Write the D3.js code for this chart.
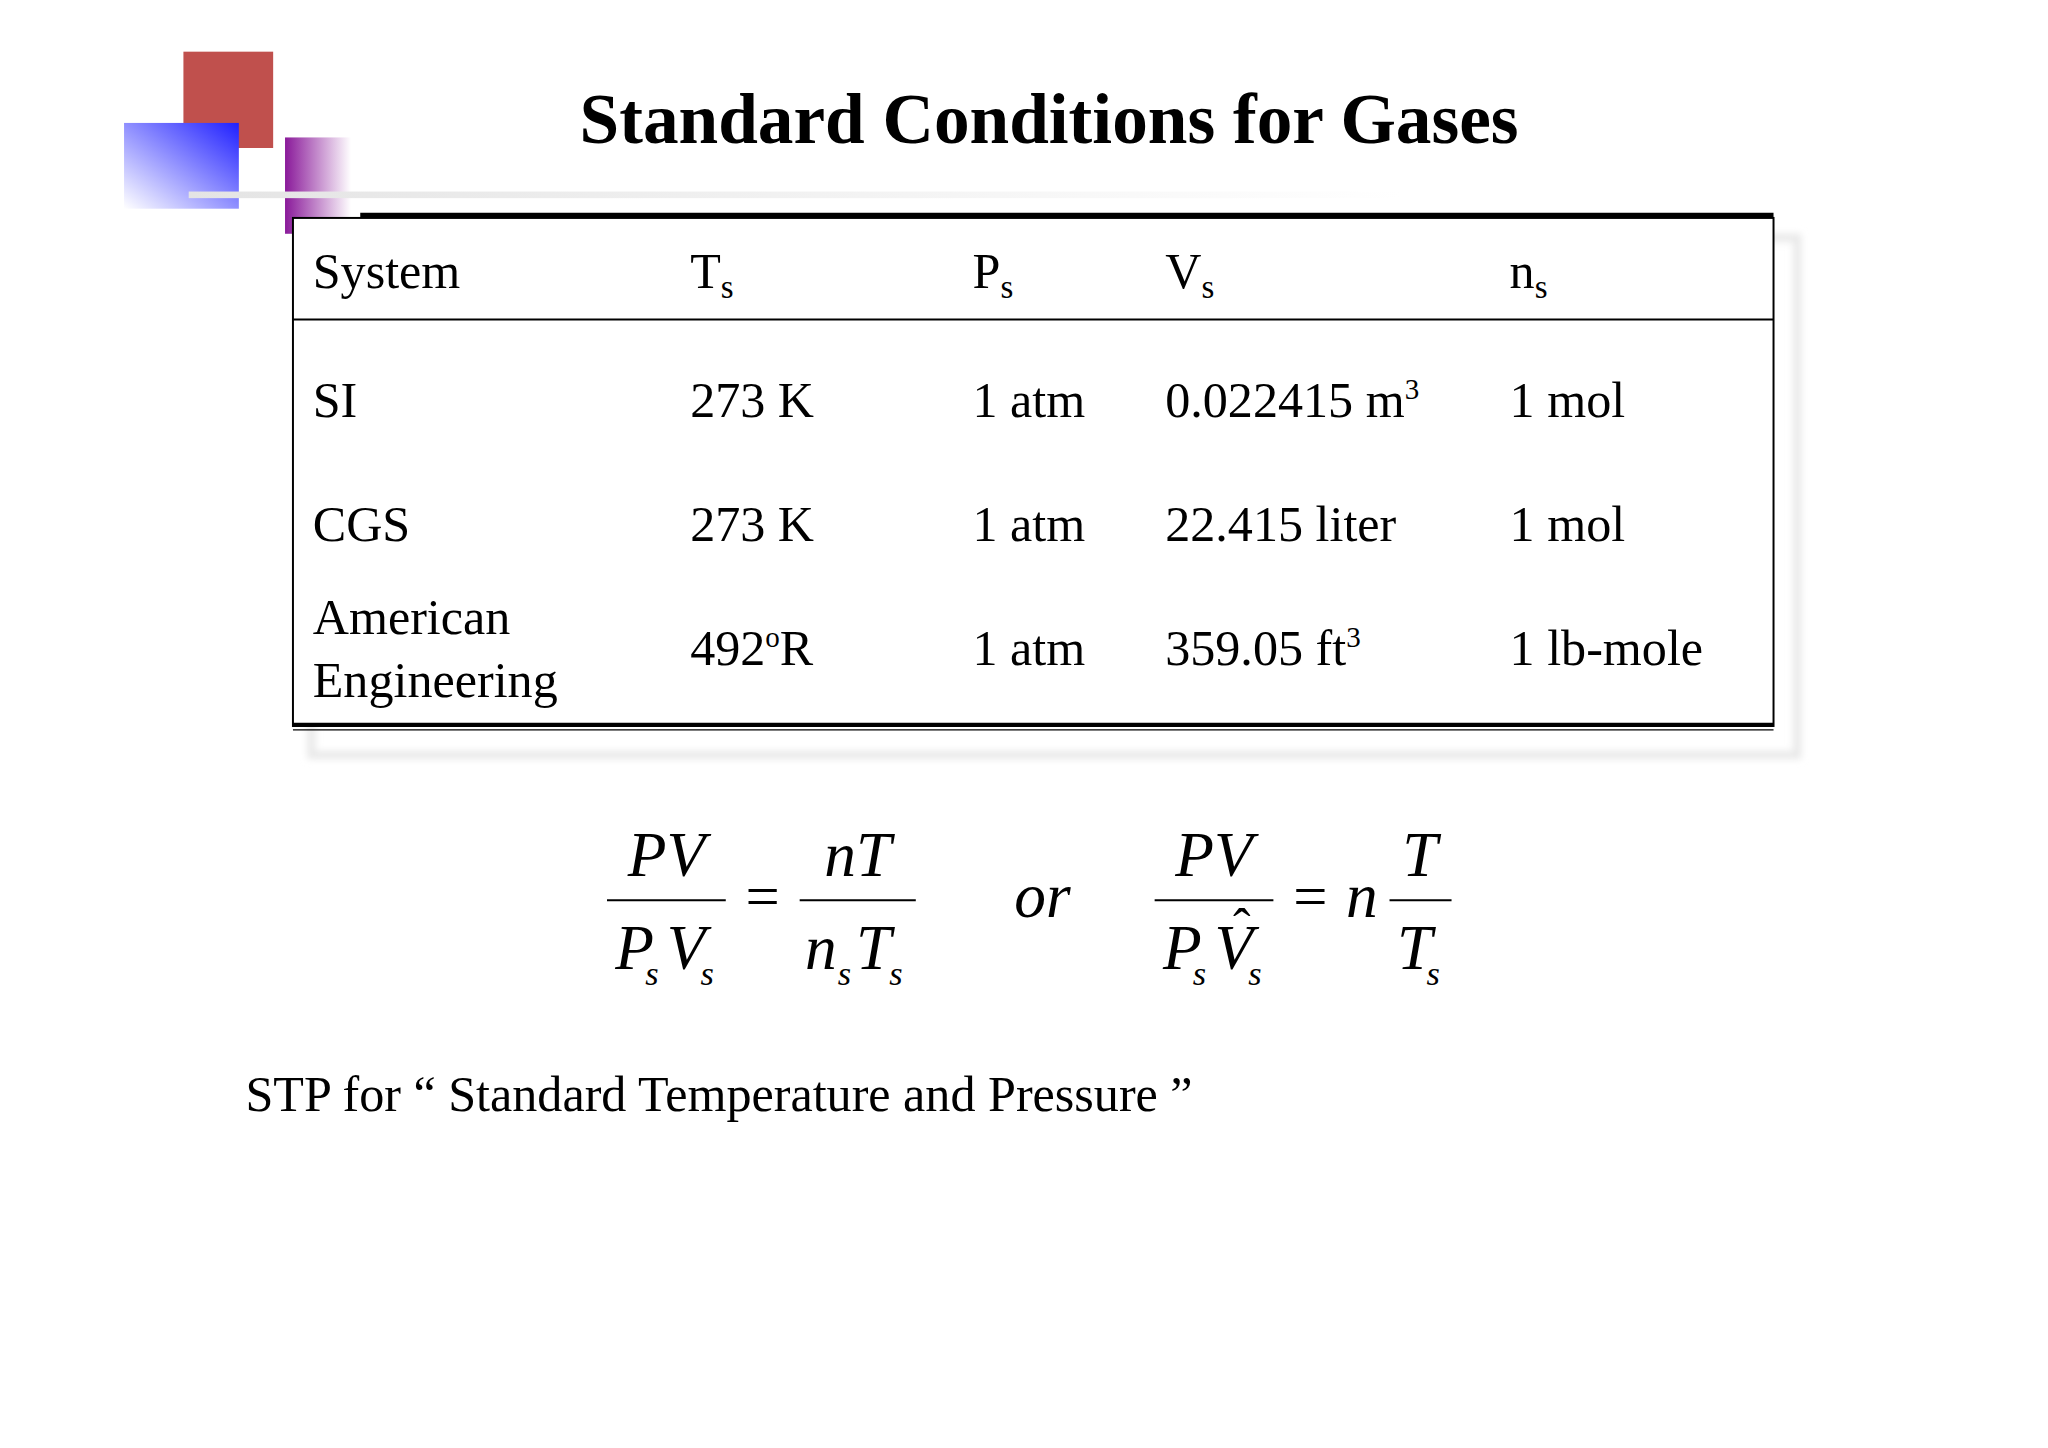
<!DOCTYPE html><html><head><meta charset="utf-8"><script src="https://cdn.jsdelivr.net/npm/d3@7"></script>
<style>body{margin:0;background:#fff}</style></head><body><script>
const columns=["System","T","P","V","n"];
const subs=["","s","s","s","s"];
const rows=[["SI","273 K","1 atm","0.022415 m|3","1 mol"],["CGS","273 K","1 atm","22.415 liter","1 mol"],["American\nEngineering","492|oR","1 atm","359.05 ft|3","1 lb-mole"]];
const title="Standard Conditions for Gases";
const note="STP for \u201c Standard Temperature and Pressure \u201d";
const svg=d3.select("body").append("svg").attr("width",2048).attr("height",1448).attr("viewBox","0 0 1552 1097");
const defs=svg.append("defs");
const g1=defs.append("linearGradient").attr("id","gb").attr("x1","1").attr("y1","0").attr("x2","0").attr("y2","1");
g1.append("stop").attr("offset","0").attr("stop-color","#2020ff");g1.append("stop").attr("offset","1").attr("stop-color","#fff");
const g2=defs.append("linearGradient").attr("id","gp").attr("x1","0").attr("x2","1");
g2.append("stop").attr("offset","0").attr("stop-color","#8a1a9a");g2.append("stop").attr("offset","1").attr("stop-color","#fff");
const g3=defs.append("linearGradient").attr("id","gl").attr("x1","0").attr("x2","1");
g3.append("stop").attr("offset","0").attr("stop-color","#e4e4e4");g3.append("stop").attr("offset","1").attr("stop-color","#fff");
const fb=defs.append("filter").attr("id","blur");fb.append("feGaussianBlur").attr("stdDeviation",3);
svg.append("rect").attr("x",139).attr("y",39).attr("width",68).attr("height",73).attr("fill","#c0504d");
svg.append("rect").attr("x",94).attr("y",93).attr("width",87).attr("height",65).attr("fill","url(#gb)");
svg.append("rect").attr("x",216).attr("y",104).attr("width",50).attr("height",73).attr("fill","url(#gp)");
svg.append("rect").attr("x",143).attr("y",145).attr("width",920).attr("height",5).attr("fill","url(#gl)");
const serif="'Liberation Serif','Times New Roman',serif";
svg.append("text").attr("x",795).attr("y",108).attr("text-anchor","middle").attr("font-family",serif).attr("font-weight","bold").attr("font-size",54).text(title);
// table
svg.append("rect").attr("x",236).attr("y",180).attr("width",1126).attr("height",392).attr("fill","none").attr("stroke","#e8e8e8").attr("stroke-width",6).attr("filter","url(#blur)");
svg.append("rect").attr("x",222).attr("y",165).attr("width",1122).attr("height",385).attr("fill","#fff").attr("stroke","#000").attr("stroke-width",1.5);
svg.append("line").attr("x1",273).attr("x2",1344).attr("y1",163).attr("y2",163).attr("stroke","#000").attr("stroke-width",4);
svg.append("line").attr("x1",222).attr("x2",1344).attr("y1",242).attr("y2",242).attr("stroke","#000").attr("stroke-width",1.5);
svg.append("line").attr("x1",222).attr("x2",1344).attr("y1",549).attr("y2",549).attr("stroke","#000").attr("stroke-width",3);
svg.append("line").attr("x1",222).attr("x2",1344).attr("y1",553).attr("y2",553).attr("stroke","#000").attr("stroke-width",1);
const x=d3.scaleOrdinal().domain(d3.range(5)).range([237,523,737,883,1144]);
const fs=38;
columns.forEach((c,i)=>{const t=svg.append("text").attr("x",x(i)).attr("y",218).attr("font-family",serif).attr("font-size",fs);
 t.append("tspan").text(c); if(subs[i]) t.append("tspan").attr("font-size",25).attr("dy",8).text(subs[i]);});
const ry=[316,410,504];
rows.forEach((r,ri)=>r.forEach((v,ci)=>{
 if(v.includes("\n")){v.split("\n").forEach((l,k)=>svg.append("text").attr("x",x(ci)).attr("y",ry[ri]-24+k*48).attr("font-family",serif).attr("font-size",fs).text(l));return;}
 const t=svg.append("text").attr("x",x(ci)).attr("y",ry[ri]).attr("font-family",serif).attr("font-size",fs);
 if(v.includes("|")){const [a,b]=v.split("|");
  if(b==="oR"){t.append("tspan").text(a);t.append("tspan").attr("font-size",22).attr("dy",-14).text("o");t.append("tspan").attr("dy",14).text("R");}
  else{t.append("tspan").text(a);t.append("tspan").attr("font-size",22).attr("dy",-14).text(b);}
 } else t.text(v);
}));
function it(txt,xx,yy,size,anchor){return svg.append("text").attr("x",xx).attr("y",yy).attr("font-family",serif).attr("font-style","italic").attr("font-size",size||48).attr("text-anchor",anchor||"middle").text(txt);}
function line(a,b,y){svg.append("line").attr("x1",a).attr("x2",b).attr("y1",y).attr("y2",y).attr("stroke","#000").attr("stroke-width",1.5);}
it("PV",505,664);line(460,550,682);
it("P",481,734);it("s",494,746,26);it("V",520,734);it("s",536,746,26);
svg.append("text").attr("x",578).attr("y",695).attr("text-anchor","middle").attr("font-family",serif).attr("font-size",46).text("=");
it("nT",650,664);line(606,694,682);
it("n",622,734);it("s",640,746,26);it("T",662,734);it("s",679,746,26);
it("or",790,695);
it("PV",920,664);line(875,965,682);
it("P",896,734);it("s",909,746,26);it("V",935,734);it("s",951,746,26);
svg.append("text").attr("x",941).attr("y",716).attr("text-anchor","middle").attr("font-family",serif).attr("font-size",40).text("\u02c6");
svg.append("text").attr("x",993).attr("y",695).attr("text-anchor","middle").attr("font-family",serif).attr("font-size",46).text("=");
it("n",1032,695);
it("T",1076,664);line(1053,1100,682);
it("T",1072,734);it("s",1086,746,26);
svg.append("text").attr("x",186).attr("y",842).attr("font-family",serif).attr("font-size",38).attr("xml:space","preserve").text(note);
</script></body></html>
